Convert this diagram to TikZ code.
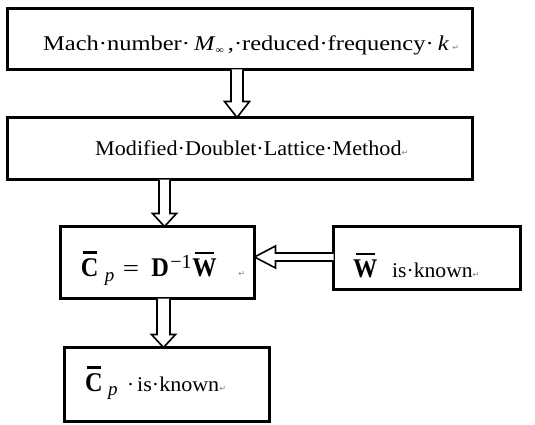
\documentclass[tikz,border=0pt]{standalone}
\usepackage{fontspec}
\usepackage{graphicx}
\setmainfont{Liberation Serif}
\newfontfamily\symf{DejaVu Sans}
\usetikzlibrary{calc}
\newcommand{\retmark}{{\symf\color{black!50}\fontsize{8}{8}\selectfont ↵}}
% bold letter with a thick bar above
\newcommand{\bl}[1]{\scalebox{0.9}[1]{\fontsize{27}{30}\selectfont\bfseries #1}}
\newcommand{\barover}[1]{\leavevmode\vbox{\offinterlineskip\setbox0\hbox{#1}%
  \hbox to\wd0{\hss\vrule width 0.8\wd0 height 2.3pt depth 0pt\hss}\vskip 4.5pt\box0}}
\newcommand{\sub}[2]{\raisebox{-#1pt}{\fontsize{19}{19}\selectfont\itshape #2}}
\newcommand{\wide}[2]{\scalebox{#1}[1]{#2}}
\tikzset{
  box/.style={draw, line width=3pt, inner sep=0pt, outer sep=0pt, anchor=center},
  lbl/.style={anchor=base west, inner sep=0pt, font=\fontsize{21}{24}\selectfont},
  blockarrow/.style={draw, fill=white, line width=1.6pt, line join=miter},
}
% vertical block arrow: #1 x-coordinate name, #2 from, #3 to, #4 shaft half, #5 head half, #6 head length
\newcommand{\blockdown}[6]{%
  \draw[blockarrow] let \p1=(#1 |- #2.south), \p2=(#1 |- #3.north) in
    (\x1-#4pt,\y1) -- (\x1-#4pt,\y2+#6pt) -- (\x1-#5pt,\y2+#6pt) -- (\x1,\y2)
    -- (\x1+#5pt,\y2+#6pt) -- (\x1+#4pt,\y2+#6pt) -- (\x1+#4pt,\y1);}
\begin{document}
\begin{tikzpicture}[x=1pt,y=-1pt]
\useasboundingbox (0,0) rectangle (535,425);
% boxes
\node[box, minimum width=465pt, minimum height=61pt] (b1) at (240,39) {};
\node[box, minimum width=465pt, minimum height=62pt] (b2) at (240,148.5) {};
\node[box, minimum width=194pt, minimum height=72pt] (b3) at (157.5,262.5) {};
\node[box, minimum width=187pt, minimum height=63pt] (b4) at (427,258) {};
\node[box, minimum width=205pt, minimum height=74pt] (b5) at (167,384.5) {};
% texts
\node[lbl] (t1) at (43,51) {\wide{1.165}{Mach·number·\,\textit{M}\raisebox{-3pt}{\fontsize{10}{10}\selectfont ∞}\,,·reduced·frequency·\,\textit{k}}\,\retmark};
\node[lbl] (t2) at (95,155) {\wide{1.055}{Modified·Doublet·Lattice·Method}\retmark};
\node[lbl] (t3) at (80.7,276) {%
  \rlap{\barover{\bl{C}}}\hspace{24pt}%
  \rlap{\sub{5}{p}}\hspace{18pt}%
  \rlap{\wide{1.2}{\fontsize{24}{24}\selectfont =}}\hspace{28.5pt}%
  \rlap{\bl{D}}\hspace{19pt}%
  \rlap{\raisebox{8pt}{\fontsize{20}{20}\selectfont −1}}\hspace{22pt}%
  \rlap{\barover{\bl{W}}}\hspace{46pt}\retmark};
\node[lbl] (t4) at (353,277) {\rlap{\barover{\bl{W}}}\hspace{39pt}\wide{1.03}{is·known}\retmark};
\node[lbl] (t5) at (85,391) {\rlap{\barover{\bl{C}}}\hspace{23pt}\rlap{\sub{4}{p}}\hspace{19pt}\rlap{·}\hspace{10pt}\wide{1.05}{is·known}\retmark};
% connector x positions
\coordinate (xa) at (237,0);
\coordinate (xb) at (164.5,0);
\coordinate (xc) at (163.5,0);
\blockdown{xa}{b1}{b2}{6}{12.5}{16}
\blockdown{xb}{b2}{b3}{5.5}{12}{13}
\blockdown{xc}{b3}{b5}{6.5}{12}{13}
% horizontal arrow from b4 to b3
\draw[blockarrow] let \p1=(b4.west |- 0,257), \p2=(b3.east |- 0,257) in
  (\x1,\y1+4pt) -- (\x2+21pt,\y1+4pt) -- (\x2+21pt,\y1+11pt) -- (\x2,\y1)
  -- (\x2+21pt,\y1-11pt) -- (\x2+21pt,\y1-4pt) -- (\x1,\y1-4pt);
\end{tikzpicture}
\end{document}
